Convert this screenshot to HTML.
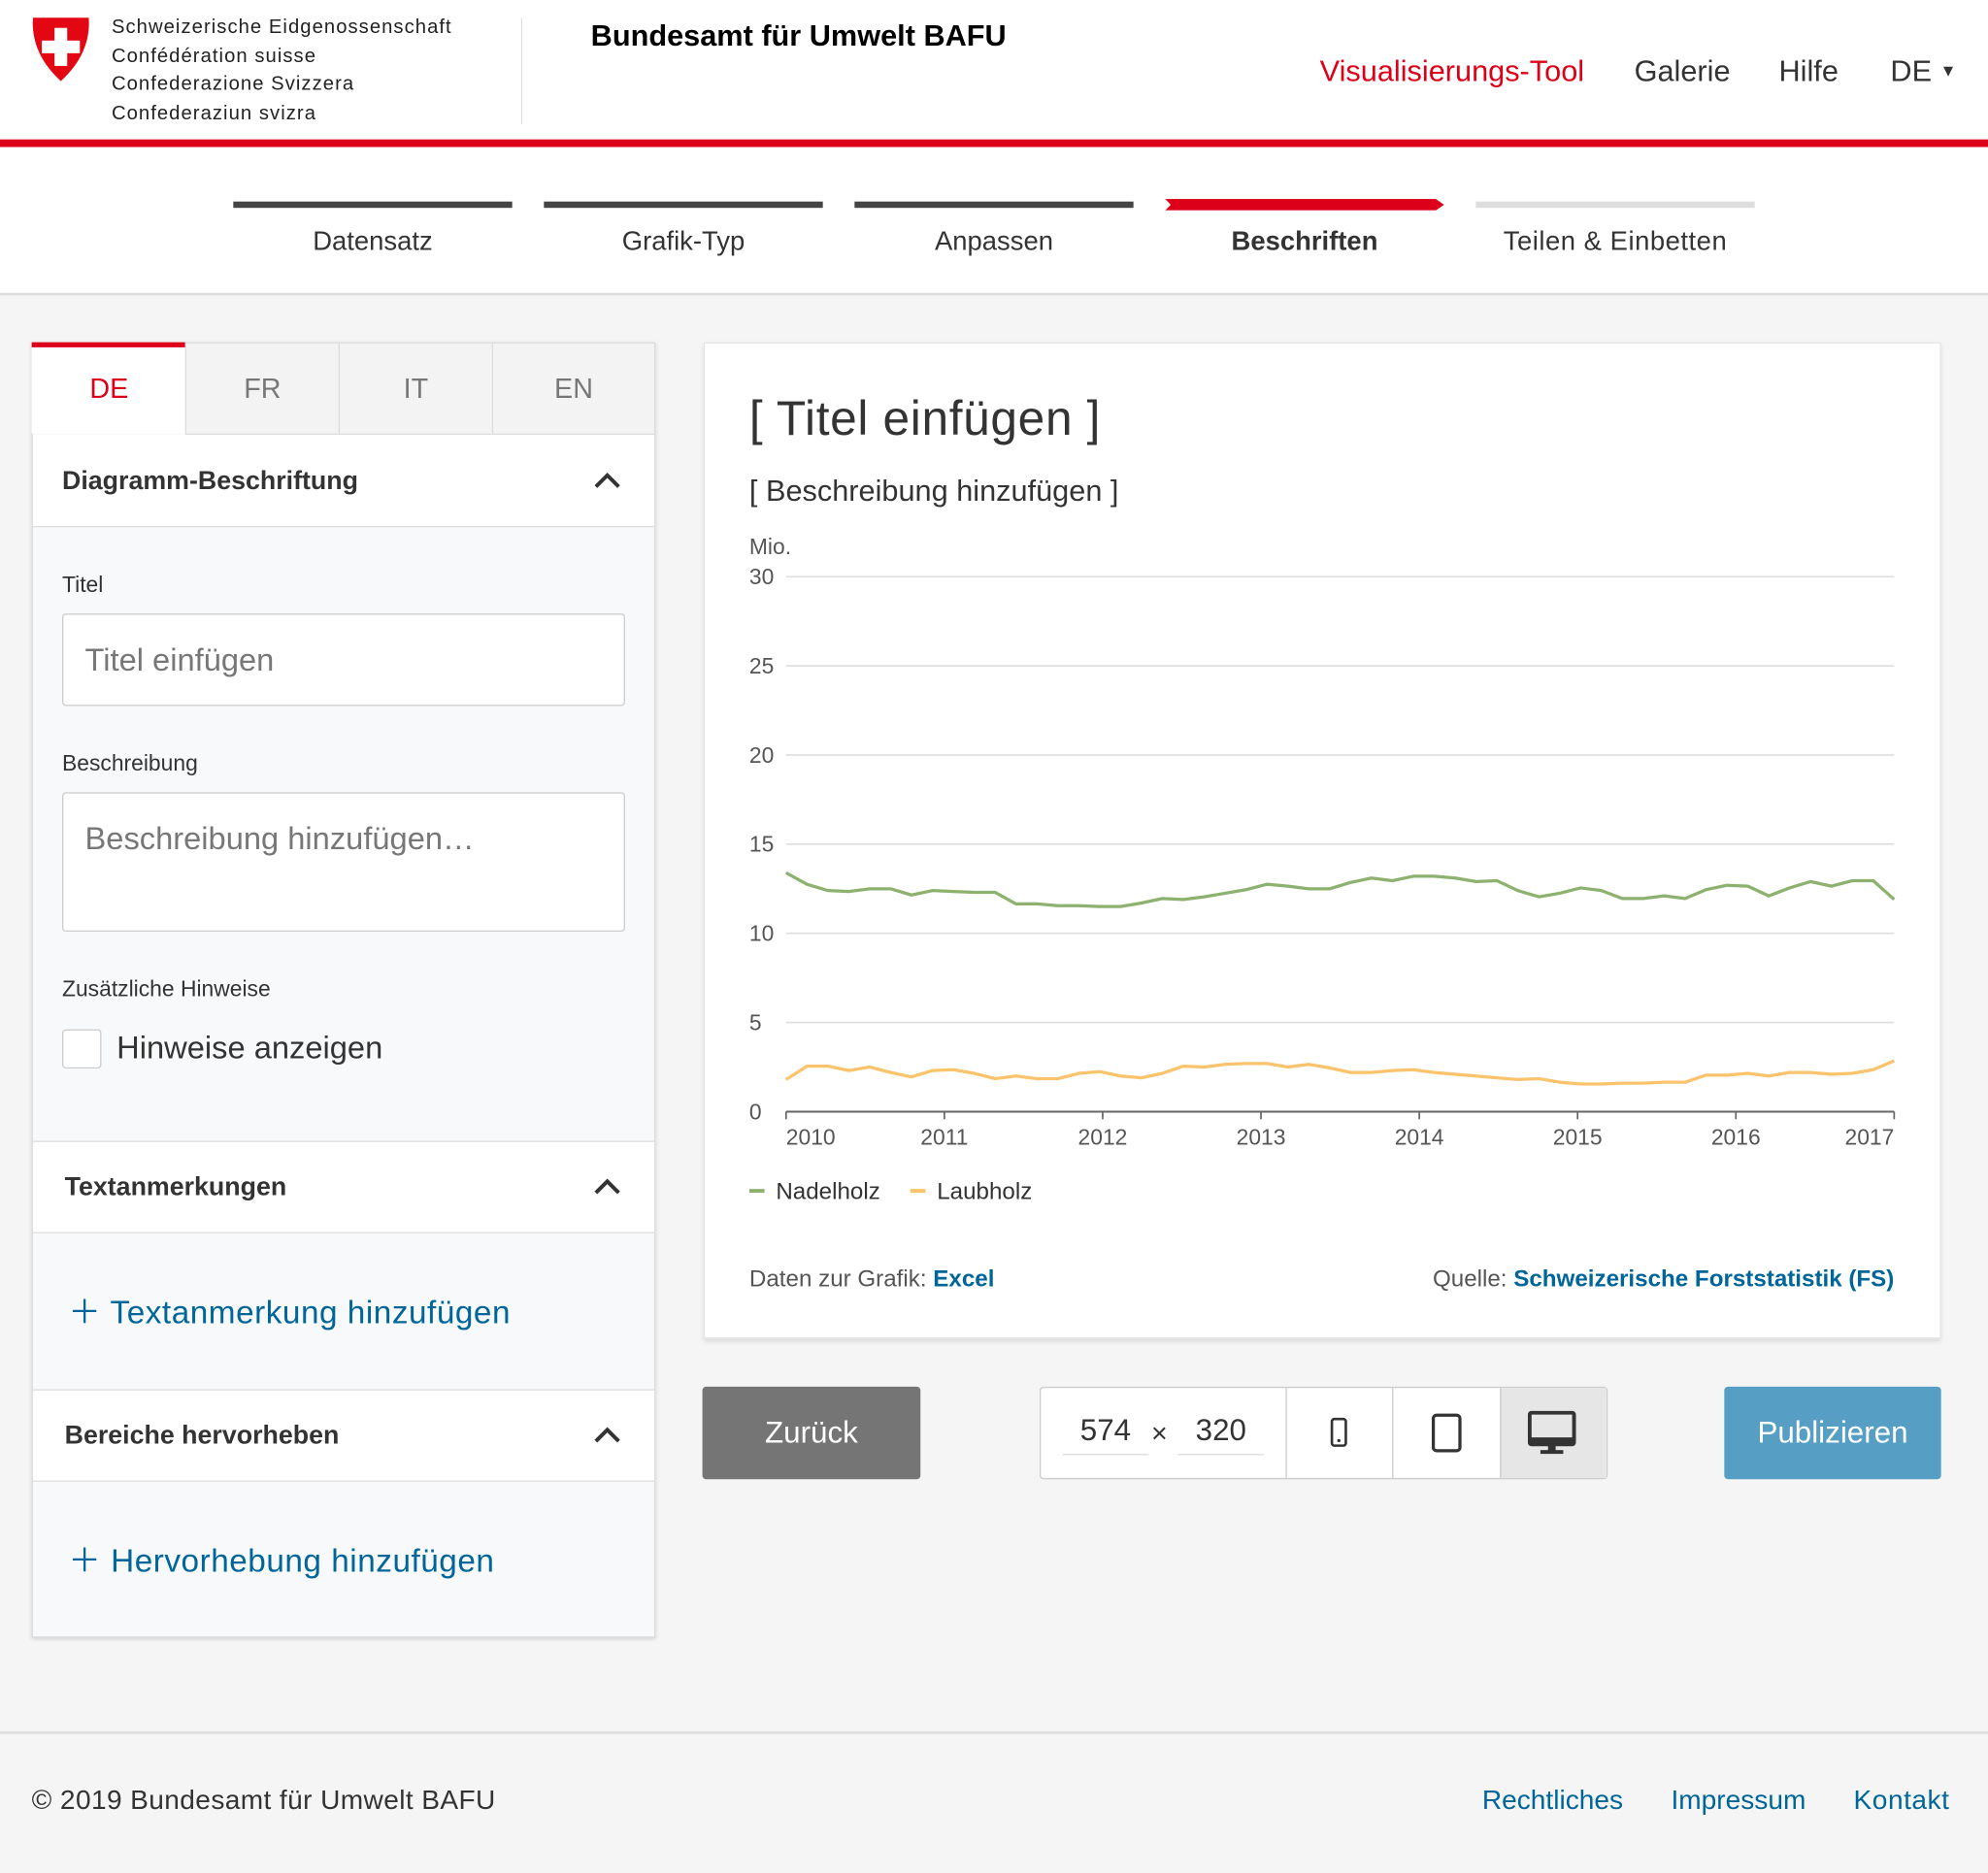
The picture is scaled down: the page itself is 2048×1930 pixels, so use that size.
<!DOCTYPE html>
<html><head><meta charset="utf-8">
<style>
*{box-sizing:border-box;margin:0;padding:0}
html,body{width:2048px;height:1930px;overflow:hidden;background:#f5f5f5;font-family:"Liberation Sans",sans-serif;color:#333}
#w{position:absolute;left:0;top:0;width:1568px;height:1477px;transform:scale(1.30612);transform-origin:0 0;background:#f5f5f5}
.a{position:absolute}
.t{position:absolute;white-space:nowrap}
</style></head><body>
<div id="w">
<!-- header -->
<div class="a" style="left:0;top:0;width:1568px;height:110px;background:#fff"></div>
<div class="a" style="left:0;top:110px;width:1568px;height:6px;background:#dc0018"></div>
<svg class="a" style="left:24px;top:12px" width="48" height="54" viewBox="0 0 48 54"><path d="M2 2 L46 2 Q48 30 24 52 Q0 30 2 2Z" fill="#e30613"/><rect x="19" y="10" width="10" height="30" fill="#fff"/><rect x="9" y="20" width="30" height="10" fill="#fff"/></svg>
<div class="t" style="left:88px;top:11px;font-size:15.5px;line-height:22.5px;letter-spacing:0.8px;color:#222">Schweizerische Eidgenossenschaft<br>Confédération suisse<br>Confederazione Svizzera<br>Confederaziun svizra</div>
<div class="a" style="left:411px;top:14px;width:1px;height:84px;background:#e0e0e0"></div>
<div class="t" style="left:466px;top:15px;font-size:23.5px;font-weight:bold;color:#000">Bundesamt für Umwelt BAFU</div>
<div class="t" style="left:1041px;top:43px;font-size:23.5px;color:#dc0018">Visualisierungs-Tool</div>
<div class="t" style="left:1289px;top:43px;font-size:23.5px;color:#333">Galerie</div>
<div class="t" style="left:1403px;top:43px;font-size:23.5px;color:#333">Hilfe</div>
<div class="t" style="left:1491px;top:43px;font-size:23.5px;color:#333">DE <span style="font-size:13px;vertical-align:4px">▼</span></div>
<!-- stepper -->
<div class="a" style="left:0;top:116px;width:1568px;height:117px;background:#fff;border-bottom:2px solid #ddd"></div>
<div class="a" style="left:184px;top:159px;width:220px;height:5px;background:#444"></div>
<div class="a" style="left:429px;top:159px;width:220px;height:5px;background:#444"></div>
<div class="a" style="left:674px;top:159px;width:220px;height:5px;background:#444"></div>
<div class="a" style="left:919px;top:157px;width:220px;height:9px;background:#dc0018;clip-path:polygon(0 0,97% 0,100% 50%,97% 100%,0 100%,2% 50%)"></div>
<div class="a" style="left:1164px;top:159px;width:220px;height:5px;background:#ddd"></div>
<div class="t" style="left:184px;width:220px;text-align:center;top:179px;font-size:21px">Datensatz</div>
<div class="t" style="left:429px;width:220px;text-align:center;top:179px;font-size:21px">Grafik-Typ</div>
<div class="t" style="left:674px;width:220px;text-align:center;top:179px;font-size:21px">Anpassen</div>
<div class="t" style="left:919px;width:220px;text-align:center;top:179px;font-size:21px;font-weight:bold">Beschriften</div>
<div class="t" style="left:1164px;width:220px;text-align:center;top:179px;font-size:21px;letter-spacing:0.4px">Teilen &amp; Einbetten</div>
<!-- left panel -->
<div class="a" style="left:25px;top:270px;width:492px;height:1022px;background:#f8f9fa;border:1px solid #ddd;box-shadow:0 1px 3px rgba(0,0,0,.15)"></div>
<div class="a" style="left:25px;top:270px;width:122px;height:72px;background:#fff;border-top:4px solid #dc0018"></div>
<div class="t" style="left:25px;width:122px;text-align:center;top:294px;font-size:22px;color:#dc0018">DE</div>
<div class="a" style="left:146px;top:270px;width:122px;height:73px;background:#f3f3f3;border:1px solid #ddd"></div>
<div class="t" style="left:146px;width:122px;text-align:center;top:294px;font-size:22px;color:#777">FR</div>
<div class="a" style="left:267px;top:270px;width:122px;height:73px;background:#f3f3f3;border:1px solid #ddd"></div>
<div class="t" style="left:267px;width:122px;text-align:center;top:294px;font-size:22px;color:#777">IT</div>
<div class="a" style="left:388px;top:270px;width:129px;height:73px;background:#f3f3f3;border:1px solid #ddd"></div>
<div class="t" style="left:388px;width:129px;text-align:center;top:294px;font-size:22px;color:#777">EN</div>

<div class="a" style="left:26px;top:343px;width:490px;height:73px;background:#fff;border-bottom:1px solid #ddd"></div>
<div class="t" style="left:49px;top:368px;font-size:20.5px;font-weight:bold">Diagramm-Beschriftung</div>
<svg class="a" style="left:468px;top:372px" width="22" height="14"><path d="M2 12 L11 3 L20 12" stroke="#333" stroke-width="3" fill="none"/></svg>
<div class="t" style="left:49px;top:451px;font-size:17.5px">Titel</div>
<div class="a" style="left:49px;top:484px;width:444px;height:73px;background:#fff;border:1px solid #ccc;border-radius:3px"></div>
<div class="t" style="left:67px;top:507px;font-size:25px;color:#777">Titel einfügen</div>
<div class="t" style="left:49px;top:592px;font-size:17.5px">Beschreibung</div>
<div class="a" style="left:49px;top:625px;width:444px;height:110px;background:#fff;border:1px solid #ccc;border-radius:3px"></div>
<div class="t" style="left:67px;top:648px;font-size:25px;color:#777">Beschreibung hinzufügen…</div>
<div class="t" style="left:49px;top:770px;font-size:17.5px">Zusätzliche Hinweise</div>
<div class="a" style="left:49px;top:812px;width:31px;height:31px;background:#fff;border:1px solid #ccc;border-radius:3px"></div>
<div class="t" style="left:92px;top:813px;font-size:25px">Hinweise anzeigen</div>

<div class="a" style="left:26px;top:900px;width:490px;height:73px;background:#fff;border-top:1px solid #ddd;border-bottom:1px solid #ddd"></div>
<div class="t" style="left:51px;top:925px;font-size:20.5px;font-weight:bold">Textanmerkungen</div>
<svg class="a" style="left:468px;top:929px" width="22" height="14"><path d="M2 12 L11 3 L20 12" stroke="#333" stroke-width="3" fill="none"/></svg>
<div class="t" style="left:54px;top:1015px;font-size:25.5px;color:#006699;letter-spacing:0.4px">＋ Textanmerkung hinzufügen</div>

<div class="a" style="left:26px;top:1096px;width:490px;height:73px;background:#fff;border-top:1px solid #ddd;border-bottom:1px solid #ddd"></div>
<div class="t" style="left:51px;top:1121px;font-size:20.5px;font-weight:bold">Bereiche hervorheben</div>
<svg class="a" style="left:468px;top:1125px" width="22" height="14"><path d="M2 12 L11 3 L20 12" stroke="#333" stroke-width="3" fill="none"/></svg>
<div class="t" style="left:54px;top:1211px;font-size:25.5px;color:#006699;letter-spacing:0.4px">＋ Hervorhebung hinzufügen</div>

<!-- chart card -->
<div class="a" style="left:555px;top:270px;width:976px;height:786px;background:#fff;border:1px solid #e5e5e5;box-shadow:0 2px 4px rgba(0,0,0,.12)"></div>
<div class="t" style="left:591px;top:310px;font-size:38px;letter-spacing:0.5px;color:#333">[ Titel einfügen ]</div>
<div class="t" style="left:591px;top:374px;font-size:23.5px;color:#333">[ Beschreibung hinzufügen ]</div>
<svg class="a" id="chart" style="left:0;top:0" width="1568" height="1000"></svg>
<div class="t" style="left:591px;top:929px;font-size:18.5px"><span style="display:inline-block;width:12px;height:3px;background:#8db16f;vertical-align:5px;margin-right:9px"></span>Nadelholz</div>
<div class="t" style="left:718px;top:929px;font-size:18.5px"><span style="display:inline-block;width:12px;height:3px;background:#fbc36c;vertical-align:5px;margin-right:9px"></span>Laubholz</div>
<div class="t" style="left:591px;top:998px;font-size:18.5px;color:#555">Daten zur Grafik: <b style="color:#006699">Excel</b></div>
<div class="t" style="right:74px;top:998px;font-size:18.5px;color:#555">Quelle: <b style="color:#006699">Schweizerische Forststatistik (FS)</b></div>

<!-- bottom controls -->
<div class="a" style="left:554px;top:1094px;width:172px;height:73px;background:#757575;border-radius:3px;color:#fff;font-size:24px;text-align:center;line-height:73px">Zurück</div>
<div class="a" style="left:820px;top:1094px;width:448px;height:73px;background:#fff;border:1px solid #ccc;border-radius:3px"></div>
<div class="t" style="left:838px;top:1115px;width:68px;text-align:center;font-size:24px;border-bottom:1px solid #ddd;padding-bottom:4px">574</div>
<div class="t" style="left:908px;top:1118px;font-size:22px">×</div>
<div class="t" style="left:929px;top:1115px;width:68px;text-align:center;font-size:24px;border-bottom:1px solid #ddd;padding-bottom:4px">320</div>
<div class="a" style="left:1014px;top:1095px;width:85px;height:71px;border-left:1px solid #ccc"></div>
<svg class="a" style="left:1049px;top:1118px" width="14" height="24"><rect x="1.5" y="1.5" width="11" height="21" rx="2" fill="none" stroke="#333" stroke-width="2"/><circle cx="7" cy="18.5" r="1.3" fill="#333"/></svg>
<div class="a" style="left:1098px;top:1095px;width:85px;height:71px;border-left:1px solid #ccc"></div>
<svg class="a" style="left:1129px;top:1115px" width="24" height="31"><rect x="1.5" y="1.5" width="21" height="28" rx="2.5" fill="none" stroke="#333" stroke-width="2.5"/></svg>
<div class="a" style="left:1183px;top:1095px;width:84px;height:71px;border-left:1px solid #ccc;background:#e6e6e6"></div>
<svg class="a" style="left:1205px;top:1113px" width="38" height="36"><rect x="0" y="0" width="38" height="28" rx="3" fill="#333"/><rect x="3" y="3" width="32" height="18" fill="#e6e6e6"/><rect x="16" y="27" width="6" height="5" fill="#333"/><rect x="10" y="31" width="18" height="3" fill="#333"/></svg>
<div class="a" style="left:1360px;top:1094px;width:171px;height:73px;background:#579ec4;border-radius:3px;color:#fff;font-size:24px;text-align:center;line-height:73px">Publizieren</div>

<!-- footer -->
<div class="a" style="left:0;top:1366px;width:1568px;height:111px;background:#f5f5f5;border-top:2px solid #ddd"></div>
<div class="t" style="left:25px;top:1408px;font-size:21.5px;letter-spacing:0.3px">© 2019 Bundesamt für Umwelt BAFU</div>
<div class="t" style="left:1169px;top:1408px;font-size:21.5px;color:#006699">Rechtliches</div>
<div class="t" style="left:1318px;top:1408px;font-size:21.5px;color:#006699">Impressum</div>
<div class="t" style="left:1462px;top:1408px;font-size:21.5px;color:#006699;letter-spacing:0.4px">Kontakt</div>
</div>
<script>
const yTicks=[0,5,10,15,20,25,30];
const xTickYears=[2010,2011,2012,2013,2014,2015,2016,2017];
const nadelholz=[13.4,12.75,12.4,12.35,12.5,12.5,12.15,12.4,12.35,12.3,12.3,11.65,11.65,11.55,11.55,11.5,11.5,11.7,11.95,11.9,12.05,12.25,12.45,12.75,12.65,12.5,12.5,12.85,13.1,12.95,13.2,13.2,13.1,12.9,12.95,12.4,12.05,12.25,12.55,12.4,11.95,11.95,12.1,11.95,12.45,12.7,12.65,12.1,12.55,12.9,12.65,12.95,12.95,11.9];
const laubholz=[1.8,2.55,2.55,2.3,2.5,2.2,1.95,2.3,2.35,2.15,1.85,2.0,1.85,1.85,2.15,2.25,2.0,1.9,2.15,2.55,2.5,2.65,2.7,2.7,2.5,2.65,2.45,2.2,2.2,2.3,2.35,2.2,2.1,2.0,1.9,1.8,1.85,1.65,1.55,1.55,1.6,1.6,1.65,1.65,2.05,2.05,2.15,2.0,2.2,2.2,2.1,2.15,2.35,2.85];
const startYear=2010, endYear=2017;
const X0=620,X1=1494,Y0=877,Y1=455;
const svg=document.getElementById('chart');
const NS='http://www.w3.org/2000/svg';
function xs(yr){return X0+(yr-startYear)/(endYear-startYear)*(X1-X0);}
function ys(v){return Y0-(v/30)*(Y0-Y1);}
function mk(tag,attrs){const e=document.createElementNS(NS,tag);for(const k in attrs)e.setAttribute(k,attrs[k]);svg.appendChild(e);return e;}
const yl=mk('text',{x:591,y:437,'font-size':17.5,fill:'#555','font-family':'Liberation Sans, sans-serif'});
yl.textContent='Mio.';


yTicks.forEach(v=>{
  if(v>0){const g=mk('line',{x1:X0,x2:X1,y1:ys(v),y2:ys(v),stroke:'#e0e0e0','stroke-width':1.3});
  
  }
  const t=mk('text',{x:591,y:ys(v)+6,'font-size':17.5,fill:'#555','font-family':'Liberation Sans, sans-serif'});
  t.textContent=v;
  
  
});
const ax=mk('line',{x1:X0,x2:X1,y1:Y0,y2:Y0,stroke:'#666','stroke-width':1.5});


xTickYears.forEach((yr,i)=>{
  const x=xs(yr);
  const tk=mk('line',{x1:x,x2:x,y1:Y0,y2:Y0+6,stroke:'#666','stroke-width':1.3});
  
  
  const anchor=i===0?'start':(i===xTickYears.length-1?'end':'middle');
  const t=mk('text',{x:x,y:Y0+26,'font-size':17.5,fill:'#555','text-anchor':anchor,'font-family':'Liberation Sans, sans-serif'});
  t.textContent=yr;
  
  
});
function line(vals,color,name){
  const n=vals.length;
  const pts=vals.map((v,i)=>xs(startYear+i/(n-1)*(endYear-startYear)).toFixed(1)+','+ys(v).toFixed(1)).join(' ');
  const p=mk('polyline',{points:pts,fill:'none',stroke:color,'stroke-width':2.5,'stroke-linejoin':'round'});
  
  
}
line(nadelholz,'#8db16f','series-nadelholz');
line(laubholz,'#fbc36c','series-laubholz');
</script>
</body></html>
